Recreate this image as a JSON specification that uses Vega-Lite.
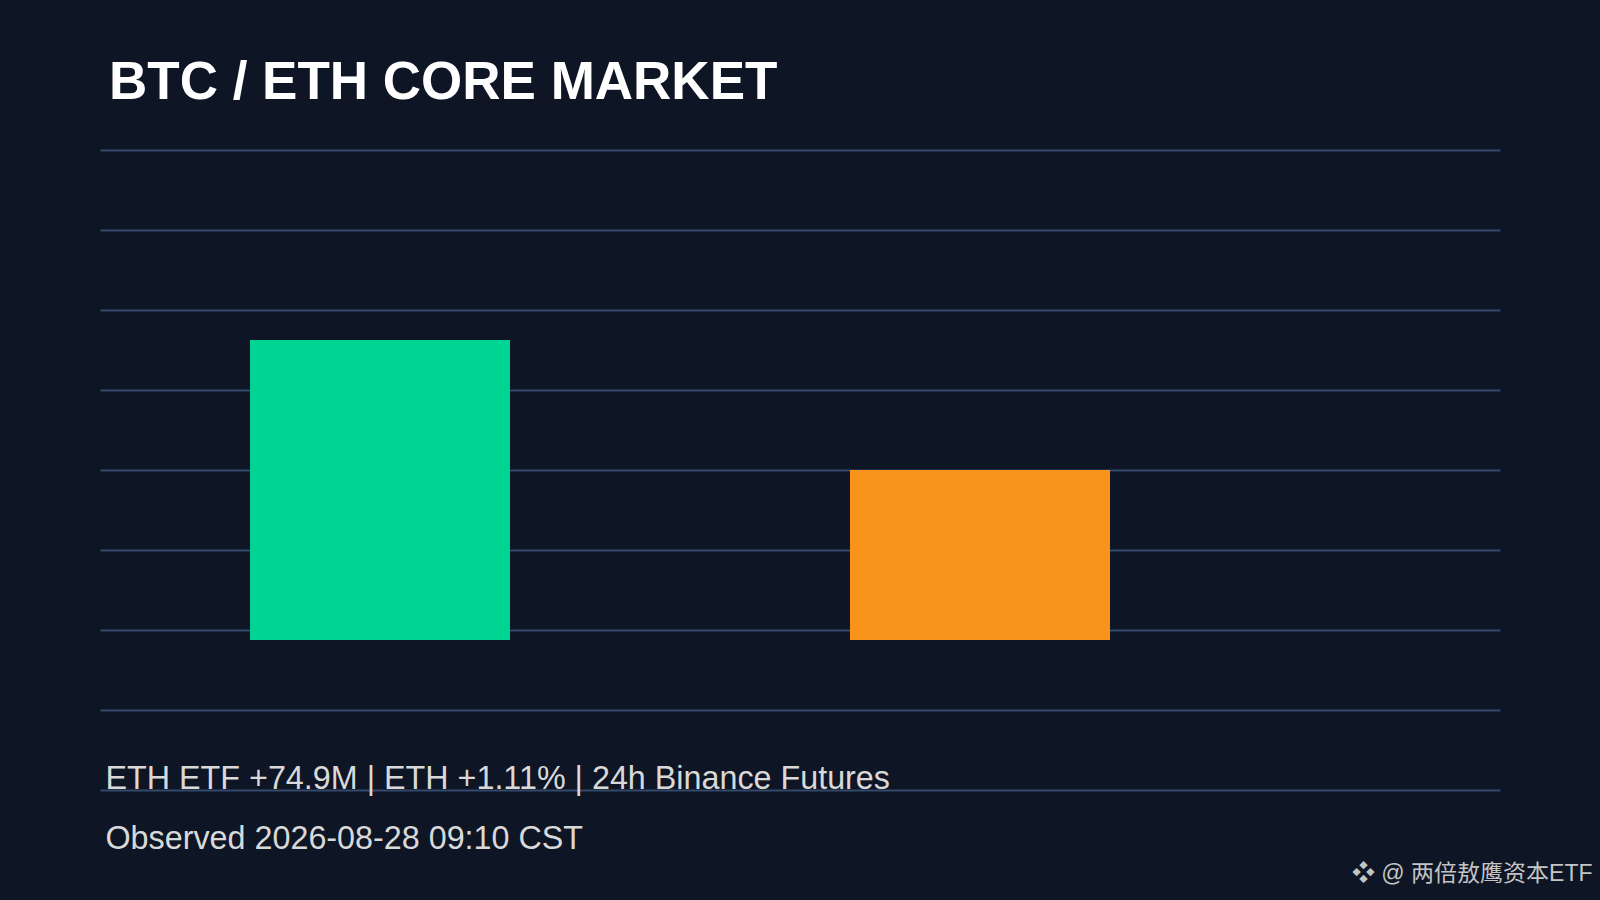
{
  "$schema": "https://vega.github.io/schema/vega-lite/v6.json",
  "width": 1400,
  "height": 640,
  "autosize": "none",
  "padding": {"left": 100, "top": 150, "right": 100, "bottom": 110},
  "background": "#0e1525",
  "title": {
    "text": "BTC / ETH CORE MARKET",
    "anchor": "start",
    "frame": "group",
    "font": "Liberation Sans",
    "fontWeight": "bold",
    "fontSize": 53,
    "color": "#ffffff",
    "dx": 9,
    "offset": 40
  },
  "data": {
    "values": [
      {"asset": "BTC", "move": 3.75},
      {"asset": "ETH", "move": 2.125}
    ]
  },
  "mark": {"type": "bar"},
  "encoding": {
    "x": {
      "field": "asset",
      "type": "nominal",
      "scale": {"type": "band", "domain": ["BTC", "ETH"], "paddingInner": 0.566667, "paddingOuter": 0.45, "align": 0.27778},
      "axis": {
        "domain": false,
        "ticks": false,
        "labels": false,
        "grid": false,
        "title": ["ETH ETF +74.9M | ETH +1.11% | 24h Binance Futures", "Observed 2026-08-28 09:10 CST"],
        "titleFont": "Liberation Sans",
        "titleFontWeight": "normal",
        "titleFontSize": 32.3,
        "titleColor": "#d9d9d9",
        "titleAlign": "left",
        "titleAnchor": "start",
        "titleBaseline": "alphabetic",
        "titleLineHeight": 60,
        "titleX": 5,
        "titleY": -2
      }
    },
    "y": {
      "field": "move",
      "type": "quantitative",
      "scale": {"domain": [-1.875, 6.125], "nice": false, "zero": false},
      "axis": {
        "values": [-1.875, -0.875, 0.125, 1.125, 2.125, 3.125, 4.125, 5.125, 6.125],
        "domain": false,
        "ticks": false,
        "labels": false,
        "grid": true,
        "gridColor": "#324a6b",
        "gridWidth": 2,
        "title": "❖ @ 两倍敖鹰资本ETF",
        "titleFont": "Liberation Sans, Noto Sans CJK SC",
        "titleFontWeight": "normal",
        "titleFontSize": 23,
        "titleColor": "#c4c4c4",
        "titleAngle": 0,
        "titleAlign": "right",
        "titleBaseline": "middle",
        "titleX": 1492,
        "titleY": 723
      }
    },
    "color": {
      "field": "asset",
      "type": "nominal",
      "scale": {"domain": ["BTC", "ETH"], "range": ["#00d492", "#f7931a"]},
      "legend": null
    }
  },
  "config": {"view": {"stroke": null}}
}
